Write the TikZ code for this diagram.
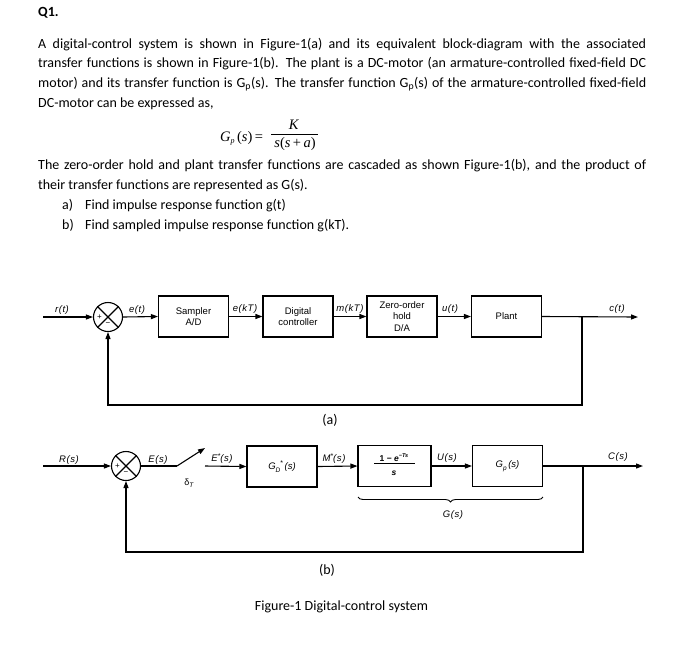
\documentclass[tikz,border=0pt]{standalone}
\usepackage{fontspec}
\setmainfont{Carlito}
\newfontfamily\tms{Liberation Serif}
\newfontfamily\dsans{Liberation Sans}
\newfontfamily\dlbl[LetterSpace=6]{Liberation Sans}
\usetikzlibrary{arrows.meta,decorations.pathreplacing}
\begin{document}
\begin{tikzpicture}[x=1pt,y=-1pt,
  bodytext/.style={font=\fontsize{14}{20}\selectfont, anchor=base west, inner sep=0},
  blk/.style={draw, line width=1.1pt, minimum width=70pt, minimum height=41pt, inner sep=0pt,
    font=\dsans\fontsize{9.5}{11.5}\selectfont, align=center},
  sumnode/.style={draw, circle, line width=1.1pt, minimum size=29pt, inner sep=0pt},
  lbl/.style={font=\dlbl\itshape\fontsize{9.5}{10}\selectfont, anchor=base, inner sep=0},
  sig/.style={line width=1.1pt, -{Triangle[length=7pt,width=5pt]}},
  wire/.style={line width=1.1pt},
  pm/.style={font=\dsans\fontsize{8}{8}\selectfont, inner sep=0}
]
\fill[white] (0,0) rectangle (700,654);
\useasboundingbox (0,0) rectangle (700,654);

% ---------- text ----------
\node[bodytext] (q) at (38,16) {\bfseries Q1.};
\node[bodytext] (l1) at (38,48) {\makebox[608pt][s]{A digital-control system is shown in Figure-1(a) and its equivalent block-diagram with the associated}};
\node[bodytext] (l2) at (38,67.7) {\makebox[608pt][s]{transfer functions is shown in Figure-1(b). The plant is a DC-motor (an armature-controlled fixed-field DC}};
\node[bodytext] (l3) at (38,87.4) {\makebox[608pt][s]{motor) and its transfer function is G\textsubscript{p}(s). The transfer function G\textsubscript{p}(s) of the armature-controlled fixed-field}};
\node[bodytext] (l4) at (38,107) {DC-motor can be expressed as,};

% equation
\node[anchor=base west, inner sep=0, font=\tms\fontsize{14.5}{16}\selectfont] (eqL) at (220,141)
  {\textit{G}\raisebox{-2.5pt}{\fontsize{8}{8}\selectfont\textit{p}}\,(\textit{s})\,=};
\node[anchor=base, inner sep=0, font=\tms\fontsize{14.5}{16}\selectfont] (eqK) at (294,129) {\textit{K}};
\node[anchor=base, inner sep=0, font=\tms\fontsize{14.5}{16}\selectfont] (eqD) at (295,147.5) {\textit{s}(\textit{s}\,+\,\textit{a})};
\draw[line width=0.6pt] (271,134) -- (318,134);

\node[bodytext] (l5) at (38,169) {\makebox[608pt][s]{The zero-order hold and plant transfer functions are cascaded as shown Figure-1(b), and the product of}};
\node[bodytext] (l6) at (38,189) {their transfer functions are represented as G(s).};
\node[bodytext] (ia) at (62,209) {a)};
\node[bodytext] (ta) at (85,209) {Find impulse response function g(t)};
\node[bodytext] (ib) at (62,229) {b)};
\node[bodytext] (tb) at (85,229) {Find sampled impulse response function g(kT).};

% ---------- diagram (a) ----------
\coordinate (ina) at (43,317);
\node[sumnode] (sa) at (108,317) {};
\draw[wire] (sa.north west) -- (sa.south east) (sa.north east) -- (sa.south west);
\node[pm] (sap) at (99.5,317) {+};
\node[pm] (sam) at (108,324.5) {\textminus};
\node[blk] (samp) at (193.5,316.5) {Sampler\\A/D};
\node[blk] (dig) at (298,316.5) {Digital\\controller};
\node[blk, font=\dsans\fontsize{9.5}{11.8}\selectfont] (zoh) at (402,316.5) {Zero-order\\hold\\D/A};
\node[blk] (plant) at (506.5,316.5) {Plant};
\coordinate (bra) at (582,317);
\coordinate (outa) at (638,317);

\draw[sig] (ina) -- (sa.west);
\draw[sig] (sa.east) -- (samp.west);
\draw[sig] (samp.east) -- (dig.west);
\draw[sig] (dig.east) -- (zoh.west);
\draw[sig] (zoh.east) -- (plant.west);
\draw[sig] (plant.east) -- (outa);
\draw[sig] (bra) -- ++(0,88) -| (sa.south);

\node[lbl] (lr) at (62,312) {r(t)};
\node[lbl] (le) at (137,312) {e(t)};
\node[lbl] (lek) at (245,311) {e(kT)};
\node[lbl] (lmk) at (350,311) {m(kT)};
\node[lbl] (lu) at (450,311) {u(t)};
\node[lbl] (lc) at (617,311) {c(t)};
\node[bodytext, anchor=base] (capa) at (330,424) {(a)};

% ---------- diagram (b) ----------
\coordinate (inb) at (43,466);
\node[sumnode] (sb) at (126,466) {};
\draw[wire] (sb.north west) -- (sb.south east) (sb.north east) -- (sb.south west);
\node[pm] (sbp) at (117.5,466) {+};
\node[pm] (sbm) at (126,473.5) {\textminus};
\coordinate (swa) at (177,466);
\coordinate (swb) at (205,448);
\coordinate (swc) at (205,466);
\node[blk] (gd) at (282,466.5) {\textit{G}\raisebox{-2.5pt}{\fontsize{6.5}{6.5}\selectfont\textit{D}}\raisebox{4pt}{\fontsize{7}{7}\selectfont *}\,\textit{(s)}};
\node[blk, minimum width=73pt] (zb) at (394.5,466) {};
\node[inner sep=0, anchor=base, font=\dsans\bfseries\fontsize{8.5}{9}\selectfont] (zbn) at (394,461)
  {1 \textminus\ \textit{e}\raisebox{4pt}{\fontsize{5.5}{6}\selectfont\textit{\textminus Ts}}};
\node[inner sep=0, anchor=base, font=\dsans\bfseries\itshape\fontsize{8.5}{9}\selectfont] (zbd) at (394,475) {s};
\draw[line width=0.9pt] (374,463.5) -- (415,463.5);
\node[blk] (gp) at (507.5,466) {\textit{G}\raisebox{-2.5pt}{\fontsize{6.5}{6.5}\selectfont\textit{p}}\,\textit{(s)}};
\coordinate (brb) at (583,466);
\coordinate (outb) at (643,466);

\draw[sig] (inb) -- (sb.west);
\draw[wire] (sb.east) -- (swa);
\draw[sig] (swa) -- (swb);
\draw[sig] (swc) -- (gd.west);
\draw[sig] (gd.east) -- (zb.west);
\draw[sig] (zb.east) -- (gp.west);
\draw[sig] (gp.east) -- (outb);
\draw[sig] (brb) -- ++(0,86) -| (sb.south);

\coordinate (bl) at (358,497);
\coordinate (br) at (543,497);
\draw[decorate, decoration={brace, mirror, amplitude=5pt}, line width=0.9pt] (bl) -- (br);

\node[lbl] (lR) at (69,462) {R(s)};
\node[lbl] (lE) at (158,462) {E(s)};
\node[lbl, font=\dsans\fontsize{9}{10}\selectfont] (ldt) at (189,485) {δ\raisebox{-2pt}{\fontsize{6.5}{6.5}\selectfont\textit{T}}};
\node[lbl] (lEs) at (222,461) {E\raisebox{2.5pt}{\fontsize{7}{7}\selectfont *}(s)};
\node[lbl] (lMs) at (334,461) {M\raisebox{2.5pt}{\fontsize{7}{7}\selectfont *}(s)};
\node[lbl] (lU) at (447,460) {U(s)};
\node[lbl] (lC) at (618,459) {C(s)};
\node[lbl] (lG) at (453,517) {G(s)};

\node[bodytext, anchor=base] (capb) at (327,574) {(b)};
\node[bodytext, anchor=base] (fig) at (341.5,610) {Figure-1 Digital-control system};
\end{tikzpicture}
\end{document}
